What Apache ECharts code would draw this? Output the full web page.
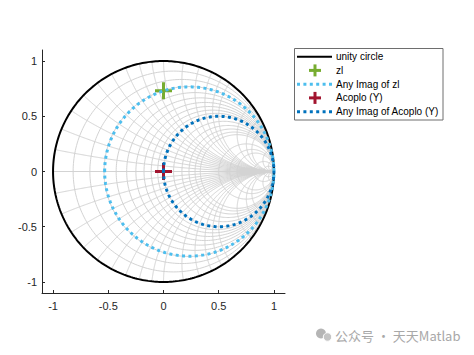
<!DOCTYPE html>
<html><head><meta charset="utf-8">
<script src="https://cdn.jsdelivr.net/npm/echarts@6/dist/echarts.min.js"></script>
<style>html,body{margin:0;padding:0;background:#fff}#c{width:474px;height:355px}</style>
</head><body><div id="c"></div><script>
// ---- data ----
const seriesNames = ['unity circle', 'zl', 'Any Imag of zl', 'Acoplo (Y)', 'Any Imag of Acoplo (Y)'];
const tickValues = [-1, -0.5, 0, 0.5, 1];
const axisRange = [-1.1, 1.1];
const zlPoint = [0, 0.73];          // reflection coefficient of zl
const acoploPoint = [0, 0];         // reflection coefficient of Acoplo (Y)
const gridResistance = [0.1, 0.2, 0.3, 0.4, 0.5, 0.6, 0.7, 0.8, 0.9, 1, 1.2, 1.4, 1.6, 1.8, 2, 3, 4, 5, 10, 20, 50];
const gridReactance = [0.1, 0.2, 0.3, 0.4, 0.5, 0.6, 0.7, 0.8, 0.9, 1, 1.2, 1.4, 1.6, 1.8, 2, 3, 4, 5, 10, 20, 50];
const watermark = '公众号 · 天天Matlab';

// ---- geometry helpers (Smith chart mapping) ----
function gammaOf(r, x) {
  const den = (r + 1) * (r + 1) + x * x;
  return [(r * r + x * x - 1) / den, 2 * x / den];
}
function resistanceOfGamma(g) {
  const a = g[0], b = g[1];
  return (1 - a * a - b * b) / ((1 - a) * (1 - a) + b * b);
}
function resistanceCircle(r, n) {
  const c = r / (1 + r), R = 1 / (1 + r), pts = [];
  for (let i = 0; i <= n; i++) {
    const p = Math.PI * 2 * i / n;
    pts.push([c - R * Math.cos(p), R * Math.sin(p)]);
  }
  return pts;
}
function reactanceArc(x, n) {
  const pts = [];
  for (let i = 0; i < n; i++) {
    const s = i / n;
    pts.push(gammaOf(s / (1 - s), x));
  }
  pts.push([1, 0]);
  return pts;
}
function unitCircle(n) {
  const pts = [];
  for (let i = 0; i <= n; i++) {
    const p = Math.PI * 2 * i / n;
    pts.push([Math.cos(p), Math.sin(p)]);
  }
  return pts;
}

const gridLines = [];
gridResistance.forEach(r => gridLines.push({coords: resistanceCircle(r, 240)}));
gridReactance.forEach(x => {
  gridLines.push({coords: reactanceArc(x, 240)});
  gridLines.push({coords: reactanceArc(-x, 240)});
});
gridLines.push({coords: [[-1, 0], [1, 0]]});

const colUnity = '#000000', colZl = '#77AC30', colZlCurve = '#4DBEEE', colAc = '#A2142F', colAcCurve = '#0072BD';
const plusPath = 'path://M7,0H10V7H17V10H10V17H7V10H0V7H7Z';
const dotted = [3, 3.4];

const chart = echarts.init(document.getElementById('c'), null, {renderer: 'svg'});
const axisCommon = {
  type: 'value', min: axisRange[0], max: axisRange[1],
  axisLine: {show: true, onZero: false, lineStyle: {color: '#262626', width: 1}},
  axisTick: {show: true, inside: true, length: 3, customValues: tickValues, lineStyle: {color: '#262626'}},
  axisLabel: {customValues: tickValues, color: '#262626', fontSize: 11, fontFamily: 'Liberation Sans, Arial, sans-serif'},
  splitLine: {show: false}
};

const legendRows = [56.7, 70.4, 84.2, 97.9, 111.7];
const legendGraphics = [
  {type: 'rect', shape: {x: 294.5, y: 48.5, width: 148.5, height: 71.5}, style: {fill: '#fff', stroke: '#6e6e6e', lineWidth: 1}, z: 100},
  {type: 'line', shape: {x1: 297, y1: legendRows[0], x2: 332, y2: legendRows[0]}, style: {stroke: colUnity, lineWidth: 2}, z: 101},
  {type: 'rect', shape: {x: 309, y: legendRows[1] - 1.5, width: 12, height: 3}, style: {fill: colZl}, z: 101},
  {type: 'rect', shape: {x: 313.5, y: legendRows[1] - 6, width: 3, height: 12}, style: {fill: colZl}, z: 101},
  {type: 'line', shape: {x1: 297, y1: legendRows[2], x2: 332, y2: legendRows[2]}, style: {stroke: colZlCurve, lineWidth: 3, lineDash: dotted}, z: 101},
  {type: 'rect', shape: {x: 309, y: legendRows[3] - 1.5, width: 12, height: 3}, style: {fill: colAc}, z: 101},
  {type: 'rect', shape: {x: 313.5, y: legendRows[3] - 6, width: 3, height: 12}, style: {fill: colAc}, z: 101},
  {type: 'line', shape: {x1: 297, y1: legendRows[4], x2: 332, y2: legendRows[4]}, style: {stroke: colAcCurve, lineWidth: 3, lineDash: dotted}, z: 101}
];
seriesNames.forEach((nm, i) => legendGraphics.push({
  type: 'text', x: 336, y: legendRows[i], z: 101,
  style: {text: nm, fill: '#000', fontSize: 10, fontFamily: 'Liberation Sans, Arial, sans-serif', verticalAlign: 'middle', align: 'left'}
}));
legendGraphics.push(
  {type: 'circle', shape: {cx: 321, cy: 333.5, r: 5}, style: {fill: '#b5b5b5'}, z: 101},
  {type: 'circle', shape: {cx: 327.5, cy: 337, r: 4.2}, style: {fill: '#c4c4c4', stroke: '#fff', lineWidth: 1}, z: 102},
  {type: 'text', x: 335, y: 335.5, z: 101,
   style: {text: watermark, fill: '#a8a8a8', fontSize: 13, fontFamily: 'Noto Sans CJK SC, sans-serif', verticalAlign: 'middle', align: 'left'}}
);

const zlR = resistanceOfGamma(zlPoint);
const acR = resistanceOfGamma(acoploPoint);

chart.setOption({
  animation: false,
  backgroundColor: '#fff',
  grid: {left: 42, top: 50, width: 243, height: 243, containLabel: false},
  xAxis: Object.assign({}, axisCommon, {axisLabel: Object.assign({}, axisCommon.axisLabel, {margin: 7})}),
  yAxis: Object.assign({}, axisCommon, {axisLabel: Object.assign({}, axisCommon.axisLabel, {margin: 5})}),
  graphic: legendGraphics,
  series: [
    {type: 'lines', coordinateSystem: 'cartesian2d', polyline: true, silent: true, z: 1,
     lineStyle: {color: '#d3d3d3', width: 1, opacity: 1}, data: gridLines},
    {name: seriesNames[0], type: 'line', data: unitCircle(360), symbol: 'none', z: 2,
     lineStyle: {color: colUnity, width: 2}},
    {name: seriesNames[1], type: 'scatter', data: [zlPoint], symbol: plusPath, symbolSize: 17, z: 3,
     itemStyle: {color: colZl, opacity: 1}},
    {name: seriesNames[2], type: 'line', data: resistanceCircle(zlR, 360), symbol: 'none', z: 4,
     lineStyle: {color: colZlCurve, width: 3, type: dotted, cap: 'butt'}},
    {name: seriesNames[3], type: 'scatter', data: [acoploPoint], symbol: plusPath, symbolSize: 17, z: 5,
     itemStyle: {color: colAc, opacity: 1}},
    {name: seriesNames[4], type: 'line', data: resistanceCircle(acR, 360), symbol: 'none', z: 6,
     lineStyle: {color: colAcCurve, width: 3, type: dotted, cap: 'butt'}}
  ]
});
</script></body></html>
